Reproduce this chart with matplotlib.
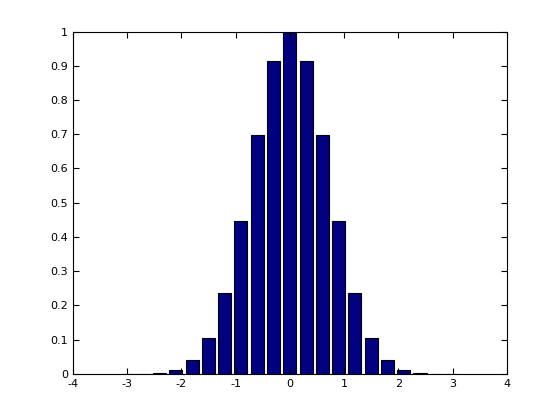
import matplotlib.pyplot as plt

x = [-3.0, -2.7, -2.4, -2.1, -1.8, -1.5, -1.2, -0.9, -0.6, -0.3, 0.0,
     0.3, 0.6, 0.9, 1.2, 1.5, 1.8, 2.1, 2.4, 2.7, 3.0]
y = [0.0001, 0.0007, 0.003, 0.012, 0.039, 0.105, 0.237, 0.445, 0.698, 0.914, 1.0,
     0.914, 0.698, 0.445, 0.237, 0.105, 0.039, 0.012, 0.003, 0.0007, 0.0001]
xticks = [-4, -3, -2, -1, 0, 1, 2, 3, 4]
yticks = [0, 0.1, 0.2, 0.3, 0.4, 0.5, 0.6, 0.7, 0.8, 0.9, 1]

fig = plt.figure(figsize=(5.6, 4.2), dpi=100)
ax = fig.add_axes([0.13, 0.11, 0.775, 0.815])
ax.bar(x, y, width=0.24, color=(0, 0, 0.5), edgecolor='black', linewidth=0.8)
ax.set_xlim(-4, 4)
ax.set_ylim(0, 1)
ax.set_xticks(xticks)
ax.set_xticklabels([str(t) for t in xticks])
ax.set_yticks(yticks)
ax.set_yticklabels(['0', '0.1', '0.2', '0.3', '0.4', '0.5', '0.6', '0.7', '0.8', '0.9', '1'])
ax.tick_params(direction='in', top=True, right=True, labelsize=8, length=4)
for s in ax.spines.values():
    s.set_linewidth(0.8)
fig.savefig('out.png', dpi=100)
